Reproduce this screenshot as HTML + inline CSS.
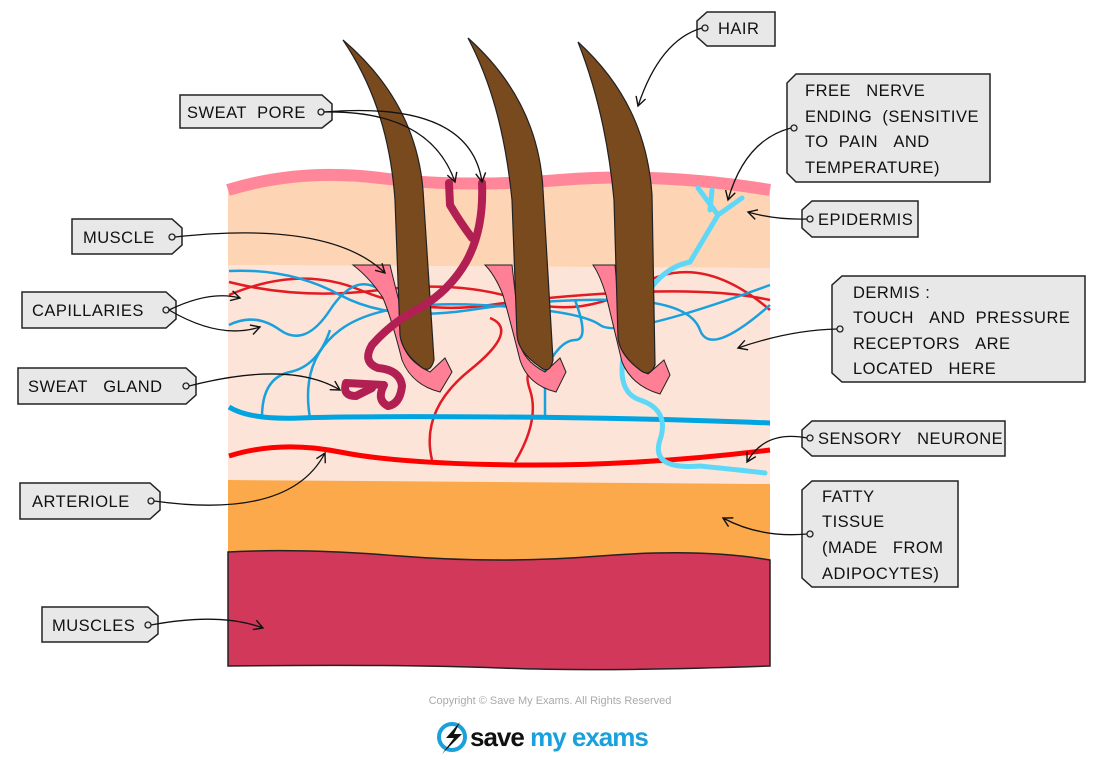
<!DOCTYPE html>
<html><head><meta charset="utf-8"><style>
html,body{margin:0;padding:0;background:#fff;}
svg{display:block;}
text{font-family:"Liberation Sans",sans-serif;font-size:16.5px;fill:#111;letter-spacing:0.5px;}
</style></head><body>
<svg width="1100" height="770" viewBox="0 0 1100 770" xmlns="http://www.w3.org/2000/svg">
<defs>
<marker id="ah" markerWidth="12" markerHeight="12" refX="10" refY="6" orient="auto" markerUnits="userSpaceOnUse">
<path d="M1,1 L10,6 L1,11" fill="none" stroke="#111" stroke-width="1.4"/>
</marker>
</defs>
<!-- layers -->
<path d="M228,478 L770,484 L770,575 L228,575 Z" fill="#fba94a"/>
<path d="M228,552 Q300,548 400,556 T600,556 T770,560 L770,666 Q600,672 500,668 T228,666 Z" fill="#d2385a" stroke="#222" stroke-width="1.5"/>
<path d="M228,265 L770,268 L770,484 L228,480 Z" fill="#fde4d8"/>
<path d="M228,192 Q300,170 380,180 T560,182 T770,192 L770,268 L228,265 Z" fill="#fdd5b4"/>
<path d="M228,190 Q300,168 380,178 T560,180 T770,190" fill="none" stroke="#ff8799" stroke-width="12"/>
<!-- capillaries -->
<g fill="none" stroke-width="2.5">
<path d="M229,295 Q300,265 360,290 T490,305 T640,292 T770,300" stroke="#e31b23"/>
<path d="M229,282 Q300,300 380,290 T520,300 T640,285 T770,310" stroke="#e31b23"/>
<path d="M310,418 Q300,360 340,330 T480,305 T600,325 T770,285" stroke="#1aa0dc"/>
<path d="M229,271 Q290,268 340,295 T470,310 T620,300 T700,330 T770,305" stroke="#1aa0dc"/>
<path d="M229,325 Q255,312 280,330 T330,310 T380,290" stroke="#1aa0dc"/>
<path d="M262,417 Q262,378 290,372 T330,330" stroke="#1aa0dc"/>
<path d="M432,460 Q420,410 470,370 T490,318" stroke="#e31b23"/>
<path d="M515,462 Q540,420 530,390 T550,380" stroke="#e31b23"/>
<path d="M545,417 L545,370 Q560,340 575,340 T575,300" stroke="#1aa0dc"/>
</g>
<path d="M229,407 Q250,420 300,418 T500,417 T770,423" fill="none" stroke="#00a4e0" stroke-width="5"/>
<path d="M229,456 Q280,440 340,452 T520,465 T770,450" fill="none" stroke="#ff0000" stroke-width="5"/>
<!-- nerve -->
<path d="M765,473 Q740,470 700,466 Q650,470 660,440 T640,400 T630,330 T690,262 L718,215 M718,215 L698,188 M718,215 L742,198 M710,210 L712,190" fill="none" stroke="#5fd8f7" stroke-width="5" stroke-linecap="round"/>
<!-- follicles -->
<g fill="#ff8096" stroke="#222" stroke-width="1">
<path d="M353,265 L390,265 Q396,290 400,305 L402,340 Q405,360 430,372 L445,358 L452,372 L440,392 Q412,385 402,360 Q392,320 383,298 Q370,278 353,265 Z"/>
<path d="M485,265 L512,265 L516,300 L519,340 Q522,360 545,372 L560,358 L566,372 L556,392 Q528,385 520,360 Q510,320 503,295 Q495,275 485,265 Z"/>
<path d="M593,265 L615,265 L618,300 L620,340 Q624,362 648,374 L664,360 L670,375 L660,394 Q632,386 622,362 Q612,320 606,295 Q600,275 593,265 Z"/>
</g>
<!-- hairs -->
<g fill="#7a4a1f" stroke="#222" stroke-width="1.2">
<path d="M343,40 C390,80 418,130 423,190 L434,360 Q430,375 420,366 Q402,352 400,335 L395,200 C390,130 370,80 343,40 Z"/>
<path d="M468,38 C515,80 540,130 543,190 L553,360 Q550,375 540,367 Q518,352 517,335 L512,200 C505,130 490,80 468,38 Z"/>
<path d="M578,42 C625,85 648,135 652,195 L655,365 Q650,378 640,370 Q620,355 618,338 L614,200 C608,135 595,85 578,42 Z"/>
</g>
<!-- sweat gland -->
<g fill="none" stroke="#b21f52" stroke-width="8" stroke-linecap="round" stroke-linejoin="round">
<path d="M449,183 L450,205 Q460,222 472,238"/>
<path d="M482,183 Q484,230 466,262 Q450,290 420,308 Q392,322 372,345 Q362,362 378,368 Q400,370 402,386 Q400,404 388,406 Q376,400 384,385 L346,383 Q342,396 356,396 L372,388"/>
</g>
<!-- tags -->
<g fill="#e8e8e8" stroke="#222" stroke-width="1.5">
<path d="M180,95 L322,95 L332,104 L332,120 L322,128 L180,128 Z"/>
<path d="M72,219 L172,219 L182,228 L182,245 L172,254 L72,254 Z"/>
<path d="M22,292 L166,292 L176,301 L176,319 L166,328 L22,328 Z"/>
<path d="M18,368 L186,368 L196,377 L196,395 L186,404 L18,404 Z"/>
<path d="M20,483 L150,483 L160,492 L160,510 L150,519 L20,519 Z"/>
<path d="M42,607 L148,607 L158,616 L158,634 L148,642 L42,642 Z"/>
<path d="M707,12 L775,12 L775,46 L707,46 L697,37 L697,21 Z"/>
<path d="M796,74 L990,74 L990,182 L796,182 L787,173 L787,83 Z"/>
<path d="M812,201 L918,201 L918,237 L812,237 L802,228 L802,210 Z"/>
<path d="M842,276 L1085,276 L1085,382 L842,382 L832,373 L832,285 Z"/>
<path d="M812,421 L1005,421 L1005,456 L812,456 L802,447 L802,430 Z"/>
<path d="M812,481 L958,481 L958,587 L812,587 L802,578 L802,490 Z"/>
</g>
<g fill="none" stroke="#222" stroke-width="1.3">
<circle cx="321" cy="112" r="3"/><circle cx="172" cy="237" r="3"/><circle cx="166" cy="310" r="3"/>
<circle cx="186" cy="386" r="3"/><circle cx="151" cy="501" r="3"/><circle cx="148" cy="625" r="3"/>
<circle cx="705" cy="28" r="3"/><circle cx="794" cy="128" r="3"/><circle cx="810" cy="219" r="3"/>
<circle cx="840" cy="329" r="3"/><circle cx="810" cy="438" r="3"/><circle cx="810" cy="534" r="3"/>
</g>
<!-- arrows -->
<g fill="none" stroke="#111" stroke-width="1.3" marker-end="url(#ah)">
<path d="M324,112 Q430,110 455,182"/>
<path d="M324,112 Q470,100 482,182"/>
<path d="M175,237 Q330,220 385,273"/>
<path d="M169,310 Q210,290 240,298"/>
<path d="M169,310 Q220,340 260,327"/>
<path d="M189,386 Q290,360 340,390"/>
<path d="M154,501 Q290,520 325,453"/>
<path d="M151,625 Q220,612 263,628"/>
<path d="M702,28 Q660,40 638,106"/>
<path d="M791,128 Q745,140 728,200"/>
<path d="M807,219 Q775,220 748,212"/>
<path d="M837,329 Q790,330 738,348"/>
<path d="M807,438 Q765,430 747,462"/>
<path d="M807,534 Q760,538 723,518"/>
</g>
<!-- labels -->
<text x="187" y="118">SWEAT&#160;&#160;PORE</text>
<text x="83" y="243">MUSCLE</text>
<text x="32" y="316">CAPILLARIES</text>
<text x="28" y="392">SWEAT&#160;&#160;&#160;GLAND</text>
<text x="32" y="507">ARTERIOLE</text>
<text x="52" y="631">MUSCLES</text>
<text x="718" y="34">HAIR</text>
<text x="805" y="96">FREE&#160;&#160;&#160;NERVE</text>
<text x="805" y="122">ENDING&#160;&#160;(SENSITIVE</text>
<text x="805" y="147">TO&#160;&#160;PAIN&#160;&#160;&#160;AND</text>
<text x="805" y="173">TEMPERATURE)</text>
<text x="818" y="225">EPIDERMIS</text>
<text x="853" y="298">DERMIS :</text>
<text x="853" y="323">TOUCH&#160;&#160;&#160;AND&#160;&#160;PRESSURE</text>
<text x="853" y="349">RECEPTORS&#160;&#160;&#160;ARE</text>
<text x="853" y="374">LOCATED&#160;&#160;&#160;HERE</text>
<text x="818" y="444">SENSORY&#160;&#160;&#160;NEURONE</text>
<text x="822" y="502">FATTY</text>
<text x="822" y="527">TISSUE</text>
<text x="822" y="553">(MADE&#160;&#160;&#160;FROM</text>
<text x="822" y="579">ADIPOCYTES)</text>
<!-- footer -->
<text x="550" y="704" text-anchor="middle" style="font-size:11px;fill:#aaa;letter-spacing:0">Copyright © Save My Exams. All Rights Reserved</text>
<circle cx="452" cy="737" r="13" fill="none" stroke="#1aa0dc" stroke-width="4"/>
<path d="M460,722 L446,738 L454,738 L442,754 L462,734 L454,734 Z" fill="#111"/>
<text x="470" y="746" style="font-size:26px;font-weight:bold;fill:#111;letter-spacing:-1px">save <tspan style="fill:#1aa0dc">my exams</tspan></text>
</svg>
</body></html>
